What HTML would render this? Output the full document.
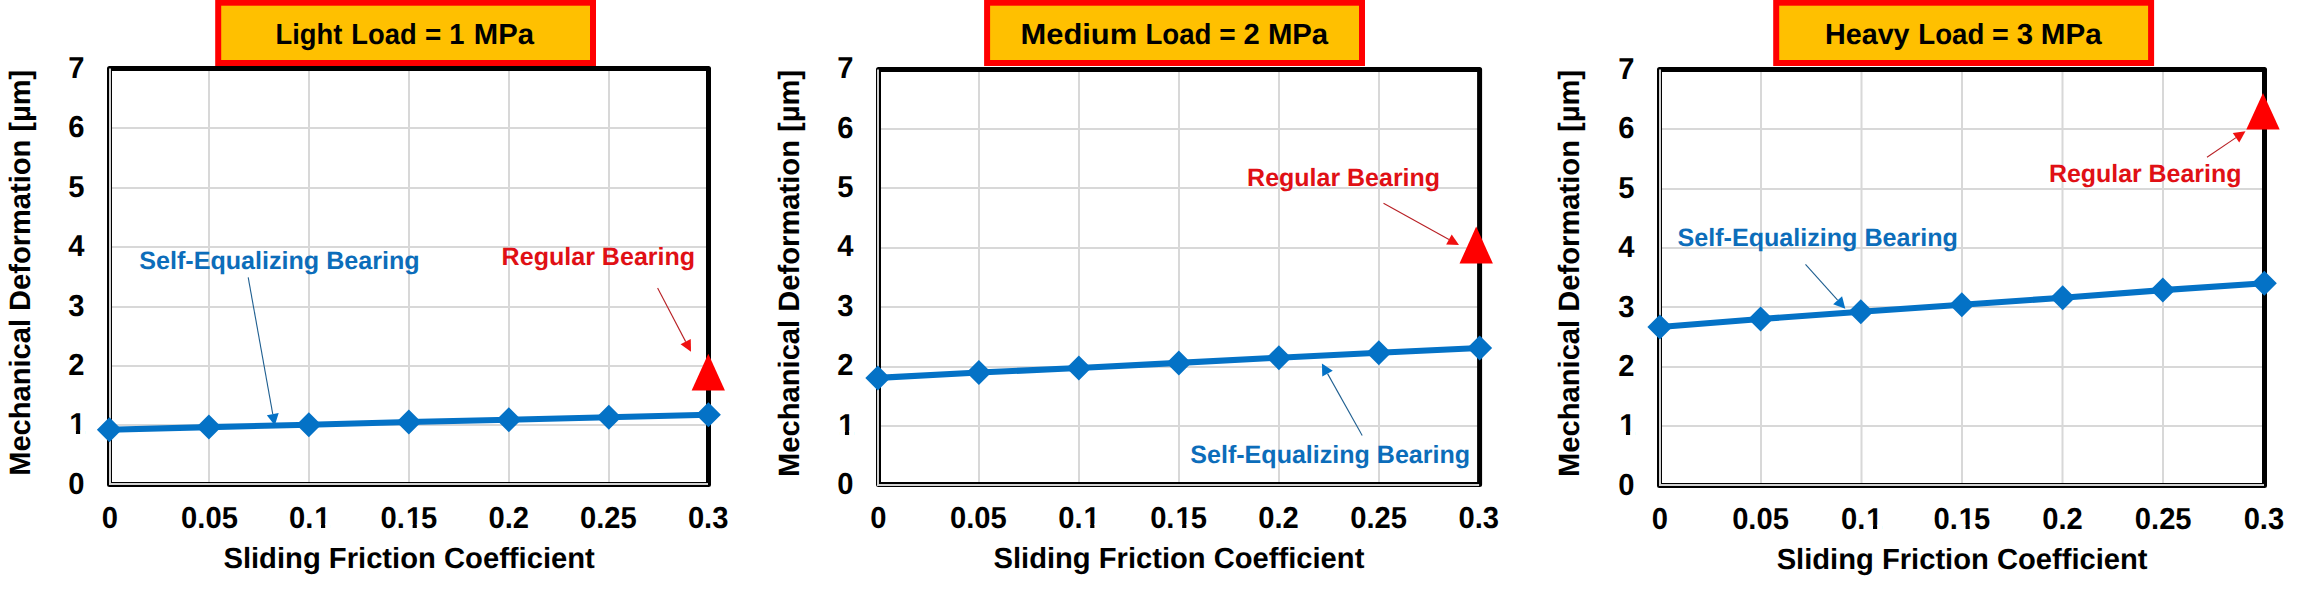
<!DOCTYPE html>
<html><head><meta charset="utf-8"><title>Mechanical Deformation vs Sliding Friction Coefficient</title>
<style>
html,body{margin:0;padding:0;background:#fff;overflow:hidden;}
svg{display:block;font-family:"Liberation Sans", sans-serif;text-rendering:geometricPrecision;}
</style></head>
<body>
<svg width="2297" height="591" viewBox="0 0 2297 591">
<rect width="2297" height="591" fill="#fff"/>
<defs><clipPath id="c1"><path d="M-50,-50H2400V700H-50ZM70.07,430.40H75.92V435.06H70.07ZM80.12,430.40H85.43V435.06H80.12Z" clip-rule="evenodd"/></clipPath><clipPath id="c2"><path d="M-50,-50H2400V700H-50ZM315.14,523.73H320.99V528.39H315.14ZM325.19,523.73H330.50V528.39H325.19Z" clip-rule="evenodd"/></clipPath><clipPath id="c3"><path d="M-50,-50H2400V700H-50ZM406.77,523.73H412.62V528.39H406.77ZM416.82,523.73H422.13V528.39H416.82Z" clip-rule="evenodd"/></clipPath><clipPath id="c4"><path d="M-50,-50H2400V700H-50ZM839.07,430.60H844.92V435.26H839.07ZM849.12,430.60H854.43V435.26H849.12Z" clip-rule="evenodd"/></clipPath><clipPath id="c5"><path d="M-50,-50H2400V700H-50ZM1084.36,523.73H1090.21V528.39H1084.36ZM1094.41,523.73H1099.71V528.39H1094.41Z" clip-rule="evenodd"/></clipPath><clipPath id="c6"><path d="M-50,-50H2400V700H-50ZM1176.32,523.73H1182.17V528.39H1176.32ZM1186.37,523.73H1191.68V528.39H1186.37Z" clip-rule="evenodd"/></clipPath><clipPath id="c7"><path d="M-50,-50H2400V700H-50ZM1620.07,431.40H1625.92V436.06H1620.07ZM1630.12,431.40H1635.43V436.06H1630.12Z" clip-rule="evenodd"/></clipPath><clipPath id="c8"><path d="M-50,-50H2400V700H-50ZM1867.12,524.63H1872.97V529.29H1867.12ZM1877.17,524.63H1882.48V529.29H1877.17Z" clip-rule="evenodd"/></clipPath><clipPath id="c9"><path d="M-50,-50H2400V700H-50ZM1959.69,524.63H1965.54V529.29H1959.69ZM1969.74,524.63H1975.05V529.29H1969.74Z" clip-rule="evenodd"/></clipPath></defs>
<g id="light">
<rect x="218.2" y="2.7" width="374.8" height="60.3" fill="#FFC000" stroke="#FF0000" stroke-width="6"/>
<text transform="translate(275.56,43.60) scale(0.9414,1.0)" font-size="29.0" font-weight="bold" fill="#000">Light</text>
<text transform="translate(351.36,43.60) scale(0.9420,1.0)" font-size="29.0" font-weight="bold" fill="#000">Load</text>
<text transform="translate(425.12,43.60) scale(0.9586,1.0)" font-size="29.0" font-weight="bold" fill="#000">=</text>
<text transform="translate(449.29,43.60) scale(0.9418,1.0)" font-size="29.0" font-weight="bold" fill="#000">1</text>
<text transform="translate(473.83,43.60) scale(1.0077,1.0)" font-size="29.0" font-weight="bold" fill="#000">MPa</text>
<line x1="209" y1="68.5" x2="209" y2="484.5" stroke="#D8D8D8" stroke-width="2"/>
<line x1="309" y1="68.5" x2="309" y2="484.5" stroke="#D8D8D8" stroke-width="2"/>
<line x1="409" y1="68.5" x2="409" y2="484.5" stroke="#D8D8D8" stroke-width="2"/>
<line x1="509" y1="68.5" x2="509" y2="484.5" stroke="#D8D8D8" stroke-width="2"/>
<line x1="609" y1="68.5" x2="609" y2="484.5" stroke="#D8D8D8" stroke-width="2"/>
<line x1="109.5" y1="128" x2="708.5" y2="128" stroke="#D8D8D8" stroke-width="2"/>
<line x1="109.5" y1="188" x2="708.5" y2="188" stroke="#D8D8D8" stroke-width="2"/>
<line x1="109.5" y1="247" x2="708.5" y2="247" stroke="#D8D8D8" stroke-width="2"/>
<line x1="109.5" y1="307" x2="708.5" y2="307" stroke="#D8D8D8" stroke-width="2"/>
<line x1="109.5" y1="366" x2="708.5" y2="366" stroke="#D8D8D8" stroke-width="2"/>
<line x1="109.5" y1="425" x2="708.5" y2="425" stroke="#D8D8D8" stroke-width="2"/>
<rect x="109.5" y="68.5" width="599.00" height="416.00" fill="none" stroke="#000" stroke-width="5" stroke-linejoin="round"/>
<polyline points="110.0,68.5 110.0,484.0 708.0,484.0" fill="none" stroke="#D2D2D2" stroke-width="2"/>
<text transform="translate(68.19,493.90) scale(1,1.04)" font-size="29.15" font-weight="bold">0</text>
<g clip-path="url(#c1)"><text transform="translate(68.19,434.47) scale(1,1.04)" font-size="29.15" font-weight="bold"><tspan dx="1.02">1</tspan></text></g>
<text transform="translate(68.19,375.04) scale(1,1.04)" font-size="29.15" font-weight="bold">2</text>
<text transform="translate(68.19,315.61) scale(1,1.04)" font-size="29.15" font-weight="bold">3</text>
<text transform="translate(68.19,256.19) scale(1,1.04)" font-size="29.15" font-weight="bold">4</text>
<text transform="translate(68.19,196.76) scale(1,1.04)" font-size="29.15" font-weight="bold">5</text>
<text transform="translate(68.19,137.33) scale(1,1.04)" font-size="29.15" font-weight="bold">6</text>
<text transform="translate(68.19,77.90) scale(1,1.04)" font-size="29.15" font-weight="bold">7</text>
<text transform="translate(101.64,527.80) scale(1,1.04)" font-size="29.15" font-weight="bold">0</text>
<text transform="translate(181.12,527.80) scale(1,1.04)" font-size="29.15" font-weight="bold">0.05</text>
<g clip-path="url(#c2)"><text transform="translate(288.96,527.80) scale(1,1.04)" font-size="29.15" font-weight="bold">0.<tspan dx="1.02">1</tspan></text></g>
<g clip-path="url(#c3)"><text transform="translate(380.58,527.80) scale(1,1.04)" font-size="29.15" font-weight="bold">0.<tspan dx="1.02">1</tspan><tspan dx="-1.02">5</tspan></text></g>
<text transform="translate(488.42,527.80) scale(1,1.04)" font-size="29.15" font-weight="bold">0.2</text>
<text transform="translate(580.05,527.80) scale(1,1.04)" font-size="29.15" font-weight="bold">0.25</text>
<text transform="translate(687.89,527.80) scale(1,1.04)" font-size="29.15" font-weight="bold">0.3</text>
<text transform="translate(223.42,568.00) scale(1.0018,1.0)" font-size="29.15" font-weight="bold" fill="#000">Sliding Friction Coefficient</text>
<text transform="translate(30.10,475.76) rotate(-90) scale(0.9976,1.01)" font-size="29.15" font-weight="bold">Mechanical Deformation [µm]</text>
<polyline points="109.40,429.80 208.90,427.10 308.80,424.70 408.80,422.00 508.80,419.70 608.80,417.30 708.40,414.80" fill="none" stroke="#0472C6" stroke-width="6.1" stroke-linejoin="round"/>
<polygon points="96.90,429.80 109.40,417.30 121.90,429.80 109.40,442.30" fill="#0472C6"/>
<polygon points="196.40,427.10 208.90,414.60 221.40,427.10 208.90,439.60" fill="#0472C6"/>
<polygon points="296.30,424.70 308.80,412.20 321.30,424.70 308.80,437.20" fill="#0472C6"/>
<polygon points="396.30,422.00 408.80,409.50 421.30,422.00 408.80,434.50" fill="#0472C6"/>
<polygon points="496.30,419.70 508.80,407.20 521.30,419.70 508.80,432.20" fill="#0472C6"/>
<polygon points="596.30,417.30 608.80,404.80 621.30,417.30 608.80,429.80" fill="#0472C6"/>
<polygon points="695.90,414.80 708.40,402.30 720.90,414.80 708.40,427.30" fill="#0472C6"/>
<polygon points="708.3,353.7 724.9499999999999,390.6 691.65,390.6" fill="#FF0000"/>
<text transform="translate(139.25,269.20) scale(1.0043,1.0)" font-size="25" font-weight="bold" fill="#0C6DBA">Self-Equalizing Bearing</text>
<text transform="translate(501.61,264.50) scale(1.0024,1.0)" font-size="25" font-weight="bold" fill="#E01015">Regular Bearing</text>
<line x1="248.20" y1="277.40" x2="272.77" y2="414.08" stroke="#1F5F90" stroke-width="1.1"/><polygon points="274.80,425.40 266.86,415.14 278.67,413.02" fill="#0472C6"/>
<line x1="657.60" y1="288.10" x2="685.66" y2="341.62" stroke="#B82025" stroke-width="1.1"/><polygon points="691.00,351.80 680.57,344.29 690.75,338.94" fill="#F01010"/>
</g>
<g id="medium">
<rect x="987.1" y="2.7" width="374.9" height="60.3" fill="#FFC000" stroke="#FF0000" stroke-width="6"/>
<text transform="translate(1020.52,43.60) scale(1.0647,1.0)" font-size="29.0" font-weight="bold" fill="#000">Medium</text>
<text transform="translate(1145.44,43.60) scale(0.9527,1.0)" font-size="29.0" font-weight="bold" fill="#000">Load</text>
<text transform="translate(1219.21,43.60) scale(0.9655,1.0)" font-size="29.0" font-weight="bold" fill="#000">=</text>
<text transform="translate(1243.48,43.60) scale(1.0057,1.0)" font-size="29.0" font-weight="bold" fill="#000">2</text>
<text transform="translate(1267.92,43.60) scale(1.0094,1.0)" font-size="29.0" font-weight="bold" fill="#000">MPa</text>
<line x1="979" y1="69.5" x2="979" y2="484.5" stroke="#D8D8D8" stroke-width="2"/>
<line x1="1079" y1="69.5" x2="1079" y2="484.5" stroke="#D8D8D8" stroke-width="2"/>
<line x1="1179" y1="69.5" x2="1179" y2="484.5" stroke="#D8D8D8" stroke-width="2"/>
<line x1="1279" y1="69.5" x2="1279" y2="484.5" stroke="#D8D8D8" stroke-width="2"/>
<line x1="1379" y1="69.5" x2="1379" y2="484.5" stroke="#D8D8D8" stroke-width="2"/>
<line x1="878.5" y1="129" x2="1479.6" y2="129" stroke="#D8D8D8" stroke-width="2"/>
<line x1="878.5" y1="188" x2="1479.6" y2="188" stroke="#D8D8D8" stroke-width="2"/>
<line x1="878.5" y1="248" x2="1479.6" y2="248" stroke="#D8D8D8" stroke-width="2"/>
<line x1="878.5" y1="307" x2="1479.6" y2="307" stroke="#D8D8D8" stroke-width="2"/>
<line x1="878.5" y1="367" x2="1479.6" y2="367" stroke="#D8D8D8" stroke-width="2"/>
<line x1="878.5" y1="426" x2="1479.6" y2="426" stroke="#D8D8D8" stroke-width="2"/>
<rect x="878.5" y="69.5" width="601.10" height="415.00" fill="none" stroke="#000" stroke-width="5" stroke-linejoin="round"/>
<polyline points="878.0,69.5 878.0,485.0 1479.1,485.0" fill="none" stroke="#D2D2D2" stroke-width="2"/>
<text transform="translate(837.19,494.10) scale(1,1.04)" font-size="29.15" font-weight="bold">0</text>
<g clip-path="url(#c4)"><text transform="translate(837.19,434.67) scale(1,1.04)" font-size="29.15" font-weight="bold"><tspan dx="1.02">1</tspan></text></g>
<text transform="translate(837.19,375.24) scale(1,1.04)" font-size="29.15" font-weight="bold">2</text>
<text transform="translate(837.19,315.81) scale(1,1.04)" font-size="29.15" font-weight="bold">3</text>
<text transform="translate(837.19,256.39) scale(1,1.04)" font-size="29.15" font-weight="bold">4</text>
<text transform="translate(837.19,196.96) scale(1,1.04)" font-size="29.15" font-weight="bold">5</text>
<text transform="translate(837.19,137.53) scale(1,1.04)" font-size="29.15" font-weight="bold">6</text>
<text transform="translate(837.19,78.10) scale(1,1.04)" font-size="29.15" font-weight="bold">7</text>
<text transform="translate(870.19,527.80) scale(1,1.04)" font-size="29.15" font-weight="bold">0</text>
<text transform="translate(950.00,527.80) scale(1,1.04)" font-size="29.15" font-weight="bold">0.05</text>
<g clip-path="url(#c5)"><text transform="translate(1058.17,527.80) scale(1,1.04)" font-size="29.15" font-weight="bold">0.<tspan dx="1.02">1</tspan></text></g>
<g clip-path="url(#c6)"><text transform="translate(1150.13,527.80) scale(1,1.04)" font-size="29.15" font-weight="bold">0.<tspan dx="1.02">1</tspan><tspan dx="-1.02">5</tspan></text></g>
<text transform="translate(1258.31,527.80) scale(1,1.04)" font-size="29.15" font-weight="bold">0.2</text>
<text transform="translate(1350.27,527.80) scale(1,1.04)" font-size="29.15" font-weight="bold">0.25</text>
<text transform="translate(1458.44,527.80) scale(1,1.04)" font-size="29.15" font-weight="bold">0.3</text>
<text transform="translate(993.53,568.10) scale(1.0002,1.0)" font-size="29.15" font-weight="bold" fill="#000">Sliding Friction Coefficient</text>
<text transform="translate(798.60,476.97) rotate(-90) scale(1.0003,1.01)" font-size="29.15" font-weight="bold">Mechanical Deformation [µm]</text>
<polyline points="877.80,377.90 978.90,372.50 1078.80,368.00 1178.80,362.90 1278.90,357.70 1378.80,352.70 1479.60,348.00" fill="none" stroke="#0472C6" stroke-width="6.1" stroke-linejoin="round"/>
<polygon points="865.30,377.90 877.80,365.40 890.30,377.90 877.80,390.40" fill="#0472C6"/>
<polygon points="966.40,372.50 978.90,360.00 991.40,372.50 978.90,385.00" fill="#0472C6"/>
<polygon points="1066.30,368.00 1078.80,355.50 1091.30,368.00 1078.80,380.50" fill="#0472C6"/>
<polygon points="1166.30,362.90 1178.80,350.40 1191.30,362.90 1178.80,375.40" fill="#0472C6"/>
<polygon points="1266.40,357.70 1278.90,345.20 1291.40,357.70 1278.90,370.20" fill="#0472C6"/>
<polygon points="1366.30,352.70 1378.80,340.20 1391.30,352.70 1378.80,365.20" fill="#0472C6"/>
<polygon points="1467.10,348.00 1479.60,335.50 1492.10,348.00 1479.60,360.50" fill="#0472C6"/>
<polygon points="1476.2,226.5 1492.9,263.6 1459.5,263.6" fill="#FF0000"/>
<text transform="translate(1190.35,463.30) scale(1.0018,1.0)" font-size="25" font-weight="bold" fill="#0C6DBA">Self-Equalizing Bearing</text>
<text transform="translate(1247.11,186.00) scale(0.9992,1.0)" font-size="25" font-weight="bold" fill="#E01015">Regular Bearing</text>
<line x1="1362.20" y1="435.40" x2="1327.53" y2="373.63" stroke="#1F5F90" stroke-width="1.1"/><polygon points="1321.90,363.60 1332.76,370.69 1322.30,376.57" fill="#0472C6"/>
<line x1="1383.50" y1="203.20" x2="1448.94" y2="239.43" stroke="#B82025" stroke-width="1.1"/><polygon points="1459.00,245.00 1446.15,244.46 1451.72,234.40" fill="#F01010"/>
</g>
<g id="heavy">
<rect x="1776.2" y="2.7" width="374.89999999999986" height="60.3" fill="#FFC000" stroke="#FF0000" stroke-width="6"/>
<text transform="translate(1824.96,43.60) scale(0.9904,1.0)" font-size="29.0" font-weight="bold" fill="#000">Heavy</text>
<text transform="translate(1918.34,43.60) scale(0.9527,1.0)" font-size="29.0" font-weight="bold" fill="#000">Load</text>
<text transform="translate(1992.08,43.60) scale(0.9862,1.0)" font-size="29.0" font-weight="bold" fill="#000">=</text>
<text transform="translate(2016.74,43.60) scale(1.0120,1.0)" font-size="29.0" font-weight="bold" fill="#000">3</text>
<text transform="translate(2040.80,43.60) scale(1.0198,1.0)" font-size="29.0" font-weight="bold" fill="#000">MPa</text>
<line x1="1761" y1="69.5" x2="1761" y2="485.5" stroke="#D8D8D8" stroke-width="2"/>
<line x1="1861.5" y1="69.5" x2="1861.5" y2="485.5" stroke="#D8D8D8" stroke-width="2"/>
<line x1="1962" y1="69.5" x2="1962" y2="485.5" stroke="#D8D8D8" stroke-width="2"/>
<line x1="2062.5" y1="69.5" x2="2062.5" y2="485.5" stroke="#D8D8D8" stroke-width="2"/>
<line x1="2163" y1="69.5" x2="2163" y2="485.5" stroke="#D8D8D8" stroke-width="2"/>
<line x1="1659.5" y1="129" x2="2264.5" y2="129" stroke="#D8D8D8" stroke-width="2"/>
<line x1="1659.5" y1="189" x2="2264.5" y2="189" stroke="#D8D8D8" stroke-width="2"/>
<line x1="1659.5" y1="248" x2="2264.5" y2="248" stroke="#D8D8D8" stroke-width="2"/>
<line x1="1659.5" y1="307" x2="2264.5" y2="307" stroke="#D8D8D8" stroke-width="2"/>
<line x1="1659.5" y1="367" x2="2264.5" y2="367" stroke="#D8D8D8" stroke-width="2"/>
<line x1="1659.5" y1="426" x2="2264.5" y2="426" stroke="#D8D8D8" stroke-width="2"/>
<rect x="1659.5" y="69.5" width="605.00" height="416.00" fill="none" stroke="#000" stroke-width="5" stroke-linejoin="round"/>
<polyline points="1660.0,69.5 1660.0,485.0 2264.0,485.0" fill="none" stroke="#D2D2D2" stroke-width="2"/>
<text transform="translate(1618.19,494.90) scale(1,1.04)" font-size="29.15" font-weight="bold">0</text>
<g clip-path="url(#c7)"><text transform="translate(1618.19,435.47) scale(1,1.04)" font-size="29.15" font-weight="bold"><tspan dx="1.02">1</tspan></text></g>
<text transform="translate(1618.19,376.04) scale(1,1.04)" font-size="29.15" font-weight="bold">2</text>
<text transform="translate(1618.19,316.61) scale(1,1.04)" font-size="29.15" font-weight="bold">3</text>
<text transform="translate(1618.19,257.19) scale(1,1.04)" font-size="29.15" font-weight="bold">4</text>
<text transform="translate(1618.19,197.76) scale(1,1.04)" font-size="29.15" font-weight="bold">5</text>
<text transform="translate(1618.19,138.33) scale(1,1.04)" font-size="29.15" font-weight="bold">6</text>
<text transform="translate(1618.19,78.90) scale(1,1.04)" font-size="29.15" font-weight="bold">7</text>
<text transform="translate(1651.74,528.70) scale(1,1.04)" font-size="29.15" font-weight="bold">0</text>
<text transform="translate(1732.16,528.70) scale(1,1.04)" font-size="29.15" font-weight="bold">0.05</text>
<g clip-path="url(#c8)"><text transform="translate(1840.94,528.70) scale(1,1.04)" font-size="29.15" font-weight="bold">0.<tspan dx="1.02">1</tspan></text></g>
<g clip-path="url(#c9)"><text transform="translate(1933.51,528.70) scale(1,1.04)" font-size="29.15" font-weight="bold">0.<tspan dx="1.02">1</tspan><tspan dx="-1.02">5</tspan></text></g>
<text transform="translate(2042.29,528.70) scale(1,1.04)" font-size="29.15" font-weight="bold">0.2</text>
<text transform="translate(2134.86,528.70) scale(1,1.04)" font-size="29.15" font-weight="bold">0.25</text>
<text transform="translate(2243.64,528.70) scale(1,1.04)" font-size="29.15" font-weight="bold">0.3</text>
<text transform="translate(1776.63,569.00) scale(1.0005,1.0)" font-size="29.15" font-weight="bold" fill="#000">Sliding Friction Coefficient</text>
<text transform="translate(1579.40,476.97) rotate(-90) scale(1.0003,1.01)" font-size="29.15" font-weight="bold">Mechanical Deformation [µm]</text>
<polyline points="1659.90,327.00 1760.60,319.00 1860.80,311.80 1961.80,304.80 2062.70,297.80 2162.80,290.10 2264.30,283.20" fill="none" stroke="#0472C6" stroke-width="6.1" stroke-linejoin="round"/>
<polygon points="1647.40,327.00 1659.90,314.50 1672.40,327.00 1659.90,339.50" fill="#0472C6"/>
<polygon points="1748.10,319.00 1760.60,306.50 1773.10,319.00 1760.60,331.50" fill="#0472C6"/>
<polygon points="1848.30,311.80 1860.80,299.30 1873.30,311.80 1860.80,324.30" fill="#0472C6"/>
<polygon points="1949.30,304.80 1961.80,292.30 1974.30,304.80 1961.80,317.30" fill="#0472C6"/>
<polygon points="2050.20,297.80 2062.70,285.30 2075.20,297.80 2062.70,310.30" fill="#0472C6"/>
<polygon points="2150.30,290.10 2162.80,277.60 2175.30,290.10 2162.80,302.60" fill="#0472C6"/>
<polygon points="2251.80,283.20 2264.30,270.70 2276.80,283.20 2264.30,295.70" fill="#0472C6"/>
<polygon points="2263.0,93.1 2279.7,129.4 2246.3,129.4" fill="#FF0000"/>
<text transform="translate(1677.45,245.80) scale(1.0047,1.0)" font-size="25" font-weight="bold" fill="#0C6DBA">Self-Equalizing Bearing</text>
<text transform="translate(2048.92,182.00) scale(0.9966,1.0)" font-size="25" font-weight="bold" fill="#E01015">Regular Bearing</text>
<line x1="1805.50" y1="264.40" x2="1837.61" y2="300.15" stroke="#1F5F90" stroke-width="1.1"/><polygon points="1845.30,308.70 1833.15,304.16 1842.08,296.14" fill="#0472C6"/>
<line x1="2207.00" y1="157.30" x2="2235.98" y2="137.65" stroke="#B82025" stroke-width="1.1"/><polygon points="2245.50,131.20 2239.21,142.41 2232.75,132.89" fill="#F01010"/>
</g>
</svg>
</body></html>
